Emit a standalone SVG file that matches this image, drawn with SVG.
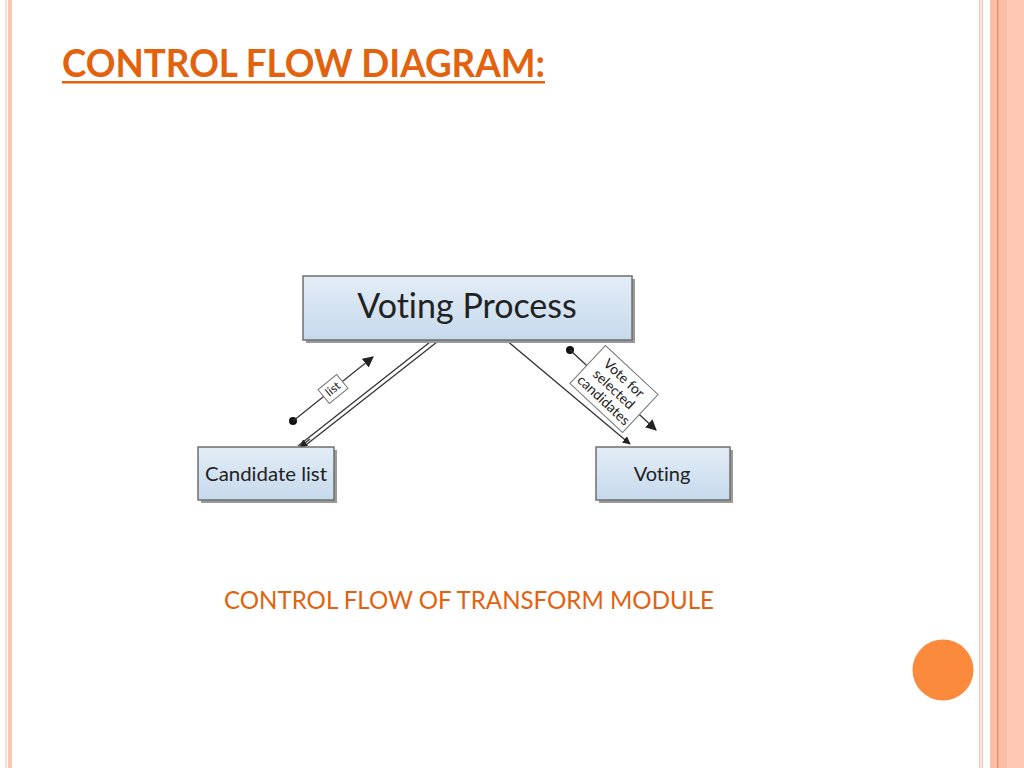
<svg xmlns="http://www.w3.org/2000/svg" width="1024" height="768" viewBox="0 0 1024 768">
<defs>
<style>
.box{stroke:#6f6f6f;stroke-width:1.5;fill:url(#g)}
.shadow{fill:#9a9a9a}
.lbl{font-family:Lato,"Open Sans",sans-serif;fill:#222;text-anchor:middle;font-variant-ligatures:none}
.conn{stroke:#333;stroke-width:1.3;fill:none}
.orange{font-family:Lato,"Open Sans",sans-serif;fill:#e2620e}
</style>
<linearGradient id="g" x1="0" y1="0" x2="0" y2="1">
<stop offset="0" stop-color="#e3edf7"/>
<stop offset="1" stop-color="#c6d9ec"/>
</linearGradient>
<marker id="arr" viewBox="0 0 10 10" refX="9" refY="5" markerWidth="8" markerHeight="8" markerUnits="userSpaceOnUse" orient="auto">
<path d="M0,0 L10,5 L0,10 z" fill="#222"/>
</marker>
<marker id="arrB" viewBox="0 0 10 10" refX="9" refY="5" markerWidth="11" markerHeight="11" markerUnits="userSpaceOnUse" orient="auto">
<path d="M0,0 L10,5 L0,10 z" fill="#222"/>
</marker>
</defs>
<rect width="1024" height="768" fill="#fff"/>
<g id="frame">
<rect x="5" y="0" width="2" height="768" fill="#fbe0d6"/>
<rect x="8" y="0" width="4" height="768" fill="#f9c6b4"/>
<rect x="979" y="0" width="4" height="768" fill="#f7c8b8"/>
<rect x="980" y="0" width="2" height="768" fill="#fbe3da"/>
<rect x="990" y="0" width="34" height="768" fill="#fdc8b4"/>
<rect x="990" y="0" width="17" height="768" fill="#fbbfa8"/>
<rect x="997" y="0" width="1.5" height="768" fill="#e8946a"/>
</g>
<g id="title">
<text class="orange" x="62" y="77" font-size="39" font-weight="bold" textLength="483" lengthAdjust="spacingAndGlyphs">CONTROL FLOW DIAGRAM:</text>
<rect x="62" y="81" width="483" height="2.5" fill="#e2620e"/>
</g>
<g id="connectors">
<line class="conn" x1="437" y1="342" x2="302" y2="448" stroke="#777"/>
<line class="conn" x1="432" y1="340.5" x2="298" y2="446" stroke="#777"/>
<line class="conn" x1="310" y1="439" x2="300" y2="447" marker-end="url(#arr)"/>
<line class="conn" x1="506" y1="340" x2="630" y2="444" marker-end="url(#arr)"/>
<circle cx="293" cy="421" r="4" fill="#111"/>
<line class="conn" x1="293" y1="421" x2="373" y2="357" marker-end="url(#arrB)"/>
<circle cx="570" cy="350" r="4" fill="#111"/>
<line class="conn" x1="570" y1="350" x2="656" y2="430" marker-end="url(#arrB)"/>
</g>
<g id="label-list" transform="translate(333,389) rotate(-39)">
<rect x="-12" y="-9" width="24" height="18" fill="#fff" stroke="#777" stroke-width="1"/>
<text class="lbl" x="0" y="4" font-size="12">list</text>
</g>
<g id="label-vote" transform="translate(614,389) rotate(43)">
<rect x="-36" y="-26" width="72" height="52" fill="#fff" stroke="#777" stroke-width="1"/>
<text class="lbl" x="0" y="-10" font-size="14">Vote for</text>
<text class="lbl" x="0" y="5" font-size="14">selected</text>
<text class="lbl" x="0" y="20" font-size="14">candidates</text>
</g>
<g id="node-voting-process">
<rect class="shadow" x="306" y="279" width="329" height="64"/>
<rect class="box" x="303" y="276" width="329" height="64"/>
<text class="lbl" x="467" y="318" font-size="34">Voting Process</text>
</g>
<g id="node-candidate-list">
<rect class="shadow" x="201" y="450" width="136" height="53"/>
<rect class="box" x="198" y="447" width="136" height="53"/>
<text class="lbl" x="266" y="481" font-size="19" textLength="122" lengthAdjust="spacingAndGlyphs">Candidate list</text>
</g>
<g id="node-voting">
<rect class="shadow" x="599" y="450" width="134" height="53"/>
<rect class="box" x="596" y="447" width="134" height="53"/>
<text class="lbl" x="662" y="481" font-size="20">Voting</text>
</g>
<text class="orange" x="224" y="609" font-size="25" textLength="490" lengthAdjust="spacingAndGlyphs">CONTROL FLOW OF TRANSFORM MODULE</text>
<circle id="dot" cx="943" cy="670" r="30.5" fill="#fb8a3c"/>
</svg>
